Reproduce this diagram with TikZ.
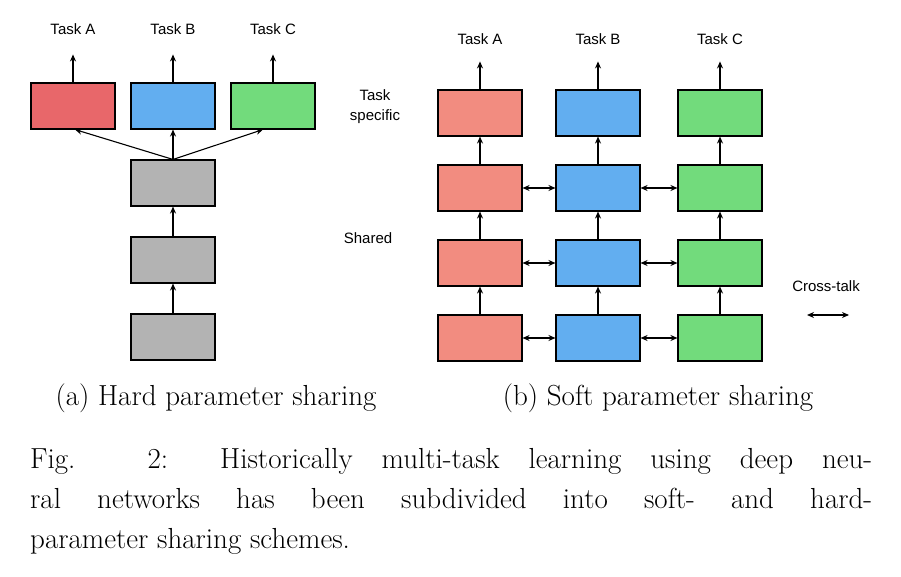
\documentclass[tikz,border=0pt]{standalone}
\usepackage{fontspec}
\newfontfamily\lsans{Liberation Sans}
\usetikzlibrary{arrows.meta,calc}
\definecolor{cr}{HTML}{F28C80}
\definecolor{crl}{HTML}{E8676A}
\definecolor{cb}{HTML}{62AEF0}
\definecolor{cg}{HTML}{72DB7C}
\definecolor{cgr}{HTML}{B3B3B3}
\begin{document}
\begin{tikzpicture}[x=1pt,y=-1pt,
  bx/.style={draw=black,line width=1.1pt,minimum width=84pt,minimum height=46pt,inner sep=0pt},
  ar/.style={-{Stealth[length=7pt,width=6pt]},line width=1.1pt},
  dar/.style={{Stealth[length=7pt,width=6pt]}-{Stealth[length=7pt,width=6pt]},line width=1.1pt},
  lb/.style={font=\lsans\fontsize{15}{18}\selectfont,inner sep=0pt},
  captxt/.style={font=\fontsize{29}{40}\selectfont,inner sep=0pt}]
\useasboundingbox (0,0) rectangle (901,577);
% left panel
\node[bx,fill=crl] (la) at (73,106) {};
\node[bx,fill=cb] (lb) at (173,106) {};
\node[bx,fill=cg] (lc) at (273,106) {};
\node[bx,fill=cgr] (g1) at (173,183) {};
\node[bx,fill=cgr] (g2) at (173,260) {};
\node[bx,fill=cgr] (g3) at (173,337) {};
\foreach \n/\t in {la/A,lb/B,lc/C}{
  \coordinate (\n t) at ($(\n.north)+(0,-28)$);
  \draw[ar] (\n.north) -- (\n t);
  \node[lb] at ($(\n.north)+(0,-53)$) {Task \t};
}
\draw[ar] (g3.north) -- (g2.south);
\draw[ar] (g2.north) -- (g1.south);
\draw[ar] (g1.north) -- ($(la.south)+(2,0)$);
\draw[ar] (g1.north) -- (lb.south);
\draw[ar] (g1.north) -- ($(lc.south)+(-10,0)$);
\node[lb,align=center] (ts) at (375,107) {Task\\[2pt]specific};
\node[lb] (sh) at (368,238) {Shared};
% right panel
\foreach \c/\x/\col in {a/480/cr,b/598/cb,c/720/cg}{
  \foreach \r/\y in {1/113,2/188,3/263,4/338}{
    \node[bx,fill=\col] (\c\r) at (\x,\y) {};
  }
  \draw[ar] (\c4.north) -- (\c3.south);
  \draw[ar] (\c3.north) -- (\c2.south);
  \draw[ar] (\c2.north) -- (\c1.south);
  \coordinate (\c t) at ($(\c1.north)+(0,-28)$);
  \draw[ar] (\c1.north) -- (\c t);
}
\node[lb] at (480,39) {Task A};
\node[lb] at (598,39) {Task B};
\node[lb] at (720,39) {Task C};
\foreach \r in {2,3,4}{
  \draw[dar] (a\r.east) -- (b\r.west);
  \draw[dar] (b\r.east) -- (c\r.west);
}
\node[lb] (ct) at (826,286) {Cross-talk};
\coordinate (x1) at (807,315);
\coordinate (x2) at (849,315);
\draw[dar] (x1) -- (x2);
% captions
\node[captxt] at (216,398) {(a) Hard parameter sharing};
\node[captxt] at (658,398) {(b) Soft parameter sharing};
\node[captxt,anchor=north west,text width=842pt,align=justify] at (30,448)
 {Fig. 2: Historically multi-task learning using deep neu-\linebreak ral networks has been subdivided into soft- and hard-\linebreak parameter sharing schemes.};
\end{tikzpicture}
\end{document}
